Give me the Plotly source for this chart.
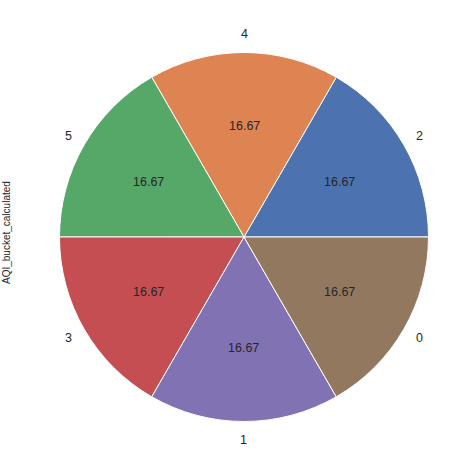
import math
import plotly.graph_objects as go

labels = ["2", "4", "5", "3", "1", "0"]
values = [16.67, 16.67, 16.67, 16.67, 16.67, 16.67]
colors = ["#4C72B0", "#DD8452", "#55A868", "#C44E52", "#8172B3", "#937860"]
ylabel = "AQI_bucket_calculated"

W = H = 474
cx, cy, r = 244, 237, 184.5

fig = go.Figure(go.Pie(
    labels=labels, values=values, sort=False, direction="counterclockwise",
    rotation=30, textinfo="none", hoverinfo="label+value",
    marker=dict(colors=colors, line=dict(color="white", width=1)),
    domain=dict(x=[(cx - r) / W, (cx + r) / W], y=[(H - cy - r) / H, (H - cy + r) / H]),
    showlegend=False,
))

total = sum(values)
ann = []
start = 0.0
for lab, v in zip(labels, values):
    mid = math.radians(360 * (start + v / 2) / total)
    start += v
    for dist, txt in ((0.6, f"{v:.2f}"), (1.1, lab)):
        x = cx + dist * r * math.cos(mid)
        y = cy - dist * r * math.sin(mid)
        ann.append(dict(x=x / W, y=1 - y / H, xref="paper", yref="paper", text=txt,
                        showarrow=False, xanchor="center", yanchor="middle",
                        font=dict(family="Liberation Sans, Arial", size=12.5, color="#262626")))
ann.append(dict(x=6 / W, y=1 - 233 / H, xref="paper", yref="paper", text=ylabel,
                showarrow=False, textangle=-90, xanchor="center", yanchor="middle",
                font=dict(family="Liberation Sans, Arial", size=10, color="#262626")))

fig.update_layout(width=W, height=H, margin=dict(l=0, r=0, t=0, b=0),
                  paper_bgcolor="white", plot_bgcolor="white", annotations=ann)
fig.write_html("out.html", config={"displayModeBar": False},
               post_script="document.body.style.margin='0';")
